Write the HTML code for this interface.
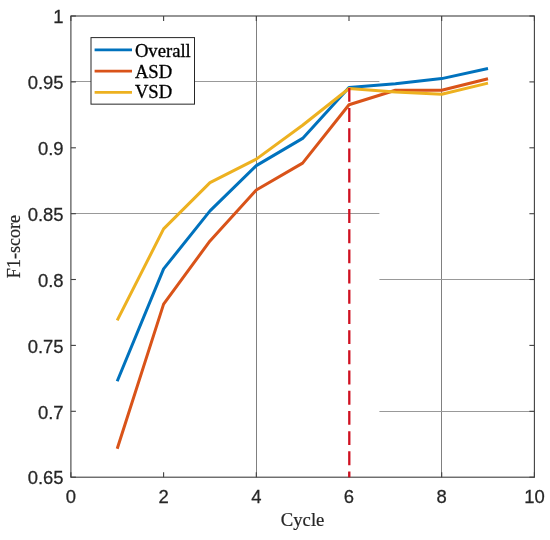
<!DOCTYPE html>
<html><head><meta charset="utf-8"><title>F1-score vs Cycle</title>
<style>html,body{margin:0;padding:0;background:#fff}body{width:550px;height:540px;overflow:hidden}svg{display:block}.t{font-family:"Liberation Sans",Arial,sans-serif;font-size:18.1px;fill:#262626;stroke:#262626;stroke-width:0.25px}.s{font-family:"Liberation Serif","Times New Roman",serif;font-size:18.1px;fill:#262626;stroke:#262626;stroke-width:0.2px}</style></head><body>
<svg width="550" height="540" viewBox="0 0 550 540">
<rect width="550" height="540" fill="#fff"/>
<g stroke="#808080" stroke-width="1" fill="none">
<line x1="256.5" y1="16.0" x2="256.5" y2="477.2"/>
<line x1="441.5" y1="16.0" x2="441.5" y2="477.2"/>
<line x1="70.9" y1="81.5" x2="379.4" y2="81.5" stroke="#999"/>
<line x1="70.9" y1="213.5" x2="379.4" y2="213.5" stroke="#999"/>
<line x1="379.4" y1="279.5" x2="534.4" y2="279.5" stroke="#999"/>
<line x1="379.4" y1="411.5" x2="534.4" y2="411.5" stroke="#999"/>
</g>
<rect x="70.9" y="16.0" width="463.5" height="461.2" fill="none" stroke="#404040" stroke-width="1.1"/>
<g stroke="#404040" stroke-width="1.1">
<line x1="70.9" y1="477.2" x2="70.9" y2="472.2"/>
<line x1="70.9" y1="16.0" x2="70.9" y2="21.0"/>
<line x1="163.6" y1="477.2" x2="163.6" y2="472.2"/>
<line x1="163.6" y1="16.0" x2="163.6" y2="21.0"/>
<line x1="256.3" y1="477.2" x2="256.3" y2="472.2"/>
<line x1="256.3" y1="16.0" x2="256.3" y2="21.0"/>
<line x1="349.0" y1="477.2" x2="349.0" y2="472.2"/>
<line x1="349.0" y1="16.0" x2="349.0" y2="21.0"/>
<line x1="441.7" y1="477.2" x2="441.7" y2="472.2"/>
<line x1="441.7" y1="16.0" x2="441.7" y2="21.0"/>
<line x1="534.4" y1="477.2" x2="534.4" y2="472.2"/>
<line x1="534.4" y1="16.0" x2="534.4" y2="21.0"/>
<line x1="70.9" y1="16.0" x2="75.9" y2="16.0"/>
<line x1="534.4" y1="16.0" x2="529.4" y2="16.0"/>
<line x1="70.9" y1="81.9" x2="75.9" y2="81.9"/>
<line x1="534.4" y1="81.9" x2="529.4" y2="81.9"/>
<line x1="70.9" y1="147.8" x2="75.9" y2="147.8"/>
<line x1="534.4" y1="147.8" x2="529.4" y2="147.8"/>
<line x1="70.9" y1="213.7" x2="75.9" y2="213.7"/>
<line x1="534.4" y1="213.7" x2="529.4" y2="213.7"/>
<line x1="70.9" y1="279.5" x2="75.9" y2="279.5"/>
<line x1="534.4" y1="279.5" x2="529.4" y2="279.5"/>
<line x1="70.9" y1="345.4" x2="75.9" y2="345.4"/>
<line x1="534.4" y1="345.4" x2="529.4" y2="345.4"/>
<line x1="70.9" y1="411.3" x2="75.9" y2="411.3"/>
<line x1="534.4" y1="411.3" x2="529.4" y2="411.3"/>
<line x1="70.9" y1="477.2" x2="75.9" y2="477.2"/>
<line x1="534.4" y1="477.2" x2="529.4" y2="477.2"/>
</g>
<polyline points="117.2,381.3 163.6,268.9 210.0,210.9 256.3,165.6 302.6,138.4 349.0,87.5 395.4,83.8 441.7,78.6 488.0,68.5" fill="none" stroke="#0072BD" stroke-width="3.0" stroke-linejoin="round" stroke-linecap="butt"/>
<polyline points="117.2,448.8 163.6,304.1 210.0,240.9 256.3,190.0 302.6,163.1 349.0,104.8 395.4,90.3 441.7,90.3 488.0,78.7" fill="none" stroke="#D95319" stroke-width="3.0" stroke-linejoin="round" stroke-linecap="butt"/>
<polyline points="117.2,320.4 163.6,228.9 210.0,182.6 256.3,159.1 302.6,125.2 349.0,88.5 395.4,92.1 441.7,94.2 488.0,83.1" fill="none" stroke="#EDB120" stroke-width="3.0" stroke-linejoin="round" stroke-linecap="butt"/>
<line x1="349.3" y1="87.9" x2="349.3" y2="477.2" stroke="#cf1020" stroke-width="2.3" stroke-dasharray="13.9 6.29"/>
<text class="t" transform="translate(63.6,23.2) scale(1.02,1)" text-anchor="end">1</text>
<text class="t" transform="translate(63.6,89.1) scale(1.02,1)" text-anchor="end">0.95</text>
<text class="t" transform="translate(63.6,155.0) scale(1.02,1)" text-anchor="end">0.9</text>
<text class="t" transform="translate(63.6,220.9) scale(1.02,1)" text-anchor="end">0.85</text>
<text class="t" transform="translate(63.6,286.7) scale(1.02,1)" text-anchor="end">0.8</text>
<text class="t" transform="translate(63.6,352.6) scale(1.02,1)" text-anchor="end">0.75</text>
<text class="t" transform="translate(63.6,418.5) scale(1.02,1)" text-anchor="end">0.7</text>
<text class="t" transform="translate(63.6,484.4) scale(1.02,1)" text-anchor="end">0.65</text>
<text class="t" transform="translate(70.9,502.6) scale(1.02,1)" text-anchor="middle">0</text>
<text class="t" transform="translate(163.6,502.6) scale(1.02,1)" text-anchor="middle">2</text>
<text class="t" transform="translate(256.3,502.6) scale(1.02,1)" text-anchor="middle">4</text>
<text class="t" transform="translate(349.0,502.6) scale(1.02,1)" text-anchor="middle">6</text>
<text class="t" transform="translate(441.7,502.6) scale(1.02,1)" text-anchor="middle">8</text>
<text class="t" transform="translate(534.4,502.6) scale(1.02,1)" text-anchor="middle">10</text>
<text class="s" transform="translate(302.6,526.0) scale(1.035,1)" text-anchor="middle">Cycle</text>
<text class="s" transform="translate(20,246.5) rotate(-90) scale(1,1.03)" text-anchor="middle">F1-score</text>
<rect x="91.0" y="37.6" width="103.5" height="66.55" fill="#fff" stroke="#262626" stroke-width="1"/>
<line x1="94.6" y1="49.8" x2="132" y2="49.8" stroke="#0072BD" stroke-width="2.7"/>
<line x1="94.6" y1="71.2" x2="132" y2="71.2" stroke="#D95319" stroke-width="2.7"/>
<line x1="94.6" y1="92.4" x2="132" y2="92.4" stroke="#EDB120" stroke-width="2.7"/>
<text class="s" transform="translate(134.9,56.9) scale(1.03,1)" style="fill:#000;stroke:#000;stroke-width:0.3px">Overall</text>
<text class="s" transform="translate(134.9,77.5) scale(1.03,1)" style="fill:#000;stroke:#000;stroke-width:0.3px">ASD</text>
<text class="s" transform="translate(134.9,98.3) scale(1.03,1)" style="fill:#000;stroke:#000;stroke-width:0.3px">VSD</text>
</svg></body></html>
